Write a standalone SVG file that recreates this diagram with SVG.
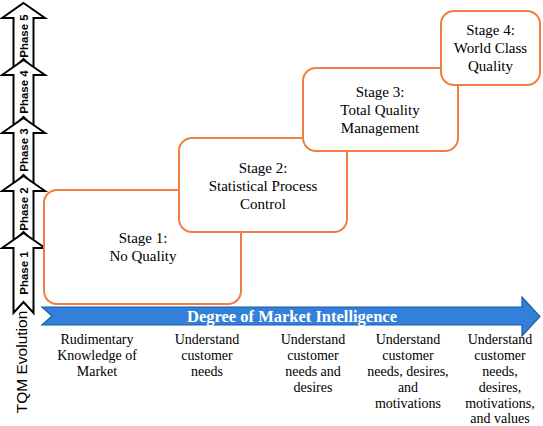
<svg xmlns="http://www.w3.org/2000/svg" width="543" height="426" viewBox="0 0 543 426">
<style>
.ph{fill:#fff;stroke:#000;stroke-width:2;stroke-linejoin:miter}
.pt{font-family:"Liberation Sans",Arial,sans-serif;font-weight:bold;font-size:11.5px;fill:#000;text-anchor:middle}
.box{fill:#fff;stroke:#EF7E3F;stroke-width:2}
.st{font-family:"Liberation Serif","Times New Roman",serif;font-size:15px;fill:#000;text-anchor:middle}
.lb{font-family:"Liberation Serif","Times New Roman",serif;font-size:14px;fill:#000;text-anchor:middle}
</style>
<g id="tqm-evolution">
<g id="phase5"><polygon class="ph" points="23.5,3 45,18 33.5,18 33.5,69 23.5,59 13.5,69 13.5,18 2,18"/><text class="pt" transform="translate(27.5,36) rotate(-90)">Phase 5</text></g>
<g id="phase4"><polygon class="ph" points="23.5,60 45,75 33.5,75 33.5,127 23.5,117 13.5,127 13.5,75 2,75"/><text class="pt" transform="translate(27.5,92) rotate(-90)">Phase 4</text></g>
<g id="phase3"><polygon class="ph" points="23.5,118 45,133 33.5,133 33.5,185 23.5,175 13.5,185 13.5,133 2,133"/><text class="pt" transform="translate(27.5,150) rotate(-90)">Phase 3</text></g>
<g id="phase2"><polygon class="ph" points="23.5,176 45,191 33.5,191 33.5,242 23.5,232 13.5,242 13.5,191 2,191"/><text class="pt" transform="translate(27.5,209) rotate(-90)">Phase 2</text></g>
<g id="phase1"><polygon class="ph" points="23.5,233 45,248 33.5,248 33.5,313 23.5,302 13.5,313 13.5,248 2,248"/><text class="pt" transform="translate(27.5,273) rotate(-90)">Phase 1</text></g>
<text transform="translate(26.5,362) rotate(-90)" font-family="'Liberation Sans',Arial,sans-serif" font-size="15.5" text-anchor="middle" fill="#000">TQM Evolution</text>
</g>
<g id="stage1"><rect class="box" x="44" y="190" width="197" height="114" rx="13"/><text class="st" x="143" y="243">Stage 1:</text><text class="st" x="143" y="261">No Quality</text></g>
<g id="stage2"><rect class="box" x="179" y="138" width="168" height="94" rx="13"/><text class="st" x="263" y="173">Stage 2:</text><text class="st" x="263" y="191">Statistical Process</text><text class="st" x="263" y="209">Control</text></g>
<g id="stage3"><rect class="box" x="303" y="68" width="155" height="83" rx="13"/><text class="st" x="380" y="97">Stage 3:</text><text class="st" x="380" y="115">Total Quality</text><text class="st" x="380" y="133">Management</text></g>
<g id="stage4"><rect class="box" x="441" y="11" width="99" height="74" rx="13"/><text class="st" x="490.5" y="35">Stage 4:</text><text class="st" x="490.5" y="53">World Class</text><text class="st" x="490.5" y="71">Quality</text></g>
<g id="connectors">
<g id="market-arrow"><polygon points="42,307 522,307 522,297 540,316.5 522,336 522,325 42,325 52,316" fill="#3380DB" stroke="#1D5CA6" stroke-width="1.2"/>
<text x="292" y="322" font-family="'Liberation Serif','Times New Roman',serif" font-weight="bold" font-size="16.5" fill="#fff" text-anchor="middle">Degree of Market Intelligence</text></g>
</g>
<g id="labels">
<g id="label1"><text class="lb" x="97" y="344">Rudimentary</text><text class="lb" x="97" y="360">Knowledge of</text><text class="lb" x="97" y="376">Market</text></g>
<g id="label2"><text class="lb" x="207" y="344">Understand</text><text class="lb" x="207" y="360">customer</text><text class="lb" x="207" y="376">needs</text></g>
<g id="label3"><text class="lb" x="313" y="344">Understand</text><text class="lb" x="313" y="360">customer</text><text class="lb" x="313" y="376">needs and</text><text class="lb" x="313" y="392">desires</text></g>
<g id="label4"><text class="lb" x="408" y="344">Understand</text><text class="lb" x="408" y="360">customer</text><text class="lb" x="408" y="376">needs, desires,</text><text class="lb" x="408" y="392">and</text><text class="lb" x="408" y="408">motivations</text></g>
<g id="label5"><text class="lb" x="500" y="344">Understand</text><text class="lb" x="500" y="360">customer</text><text class="lb" x="500" y="376">needs,</text><text class="lb" x="500" y="392">desires,</text><text class="lb" x="500" y="408">motivations,</text><text class="lb" x="500" y="423">and values</text></g>
</g>
</svg>
